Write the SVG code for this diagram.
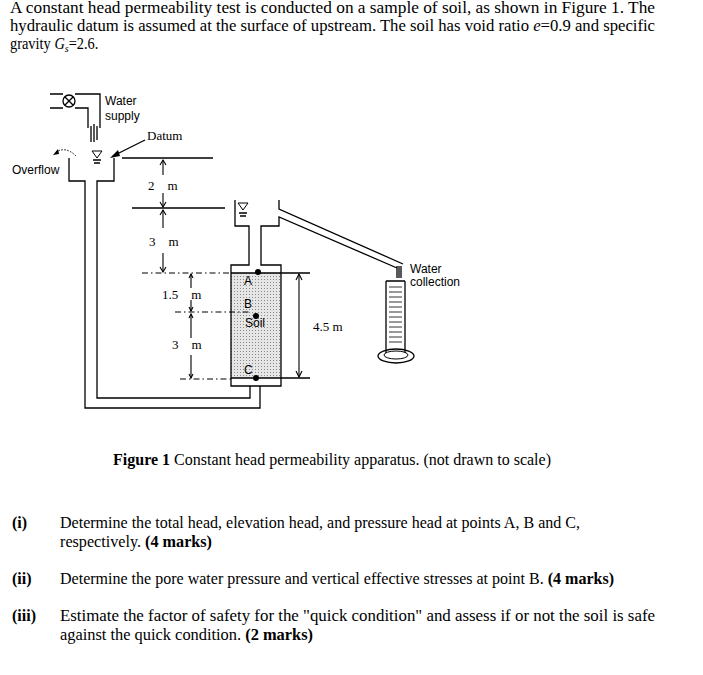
<svg xmlns="http://www.w3.org/2000/svg" width="703" height="675" viewBox="0 0 703 675">
<style>
.t{font-family:"Liberation Serif",serif;font-size:16px;fill:#000}
.s{font-family:"Liberation Sans",sans-serif;font-size:12px;fill:#000}
.d{font-family:"Liberation Serif",serif;font-size:13px;fill:#000;white-space:pre}
.l{fill:none;stroke:#000;stroke-width:1.3}
.h{fill:none;stroke:#000;stroke-width:1.1}
.dd{fill:none;stroke:#000;stroke-width:1.2;stroke-dasharray:6 3 1.5 3}
</style>
<defs>
<pattern id="p" width="3" height="3" patternUnits="userSpaceOnUse"><rect width="3" height="3" fill="#e6e6e6"/><rect width="1" height="1" fill="#888"/></pattern>
</defs>
<rect width="703" height="675" fill="#fff"/>
<text class="t" x="10" y="13" textLength="645" lengthAdjust="spacingAndGlyphs">A constant head permeability test is conducted on a sample of soil, as shown in Figure 1. The</text>
<text class="t" x="10" y="31" textLength="645" lengthAdjust="spacingAndGlyphs">hydraulic datum is assumed at the surface of upstream.  The soil has void ratio <tspan font-style="italic">e</tspan>=0.9 and specific</text>
<text class="t" x="10" y="49" transform="translate(10,0) scale(0.9,1) translate(-10,0)">gravity <tspan font-style="italic">G</tspan><tspan font-style="italic" font-size="11" dy="3">s</tspan><tspan dy="-3">=2.6.</tspan></text>

<g id="supply">
<path class="l" d="M50,94 H63 M75,94 H100 V128 M50,108 H63 M75,108 H88 V128"/>
<circle cx="69" cy="101" r="6" fill="#fff" stroke="#000" stroke-width="1.3"/>
<path class="l" d="M65,97 L73,105 M73,97 L65,105"/>
<path class="l" d="M91,126 V142 M94,124 V142 M97,126 V140" stroke-width="0.8"/>
<text class="s" x="105" y="105">Water</text><text class="s" x="105" y="120">supply</text>
</g>
<g id="upstream">
<path class="l" d="M69,158 V181 H85 V408 H260 V386 M114,158 V181 H97 V398 H250 V386"/>
<path d="M92,151 L102,151 L97,158 Z" fill="#fff" stroke="#000"/>
<path class="l" d="M93,160 H101 M94,163 H100"/>
<path d="M76,156 Q66,146 56,152" fill="none" stroke="#000" stroke-dasharray="1.5 1.5"/>
<path d="M53,155 L58,149 L59,154 Z" fill="#000"/>
<text class="s" x="12" y="174">Overflow</text>
<path class="l" d="M145,140 L113,156"/>
<path d="M110,158 L118,150 L120,156 Z" fill="#000"/>
<text class="d" x="147" y="140">Datum</text>
</g>
<g id="soil-column">
<rect x="231" y="273" width="50" height="105" fill="url(#p)"/>
<path class="l" d="M235,200 V226 H249 V265 H231 V386 H281 V265 H261 V226 H279 V217 L397,268 M279,200 V209 L403,264"/>
<path class="l" d="M231,273 H281 M231,378 H281"/>
<path d="M238,203 L248,203 L243,210 Z" fill="#fff" stroke="#000"/>
<path class="l" d="M239,213 H247 M240,216 H246"/>
<circle cx="258" cy="272" r="3"/><circle cx="256" cy="316" r="3"/><circle cx="256" cy="378" r="3"/>
<text class="s" x="244" y="285">A</text><text class="s" x="244" y="308">B</text>
<text class="s" x="245" y="327">Soil</text><text class="s" x="244" y="374">C</text>
</g>
<g id="collector">
<path class="l" d="M397,266 V278 M399,266 V278 M401,266 V278" stroke-width="0.8"/>
<ellipse cx="396" cy="356" rx="18" ry="7" fill="#fff" stroke="#000" stroke-width="1.3"/>
<ellipse cx="396" cy="355" rx="12" ry="4" fill="none" stroke="#000"/>
<path class="l" d="M386,281 V353 M405,281 V353 M386,281 H405"/>
<path d="M389,287 H402 M389,292 H402 M389,297 H402 M389,302 H402 M389,307 H402 M389,312 H402 M389,317 H402 M389,322 H402 M389,327 H402 M389,332 H402 M389,337 H402 M389,342 H402" stroke="#000" stroke-width="0.8"/>
<text class="s" x="410" y="273" font-size="11">Water</text><text class="s" x="410" y="286" font-size="11">collection</text>
</g>
<g id="connectors">
<path class="l" d="M122,158 H213 M132,208 H225 M281,273 H310 M281,378 H310" stroke-width="1"/>
<path class="dd" d="M142,273 H231 M175,312 H250 M180,379 H231"/>
<path class="h" d="M163,175 V160 M163,193 V207 M163,228 V210 M163,253 V272 M191,288 V274 M191,300 V311 M191,338 V314 M191,355 V378 M299,274 V377"/>
<path class="h" d="M160,165 L163,160 L166,165 M160,202 L163,207 L166,202 M160,215 L163,210 L166,215 M160,267 L163,272 L166,267 M189,278 L191,274 L193,278 M189,307 L191,311 L193,307 M189,318 L191,314 L193,318 M189,374 L191,378 L193,374 M296,280 L299,274 L302,280 M296,371 L299,377 L302,371"/>
<text class="d" x="148" y="190">2    m</text>
<text class="d" x="149" y="246">3    m</text>
<text class="d" x="162" y="299">1.5    m</text>
<text class="d" x="172" y="349">3    m</text>
<text class="d" x="313" y="331">4.5 m</text>
</g>
<text class="t" x="113" y="465" textLength="438" lengthAdjust="spacingAndGlyphs"><tspan font-weight="bold">Figure 1</tspan>  Constant head permeability apparatus. (not drawn to scale)</text>
<text class="t" x="12" y="528" font-weight="bold">(i)</text>
<text class="t" x="60" y="528" textLength="520" lengthAdjust="spacingAndGlyphs">Determine the total head, elevation head, and pressure head at points A, B and C,</text>
<text class="t" x="60" y="547" textLength="152" lengthAdjust="spacingAndGlyphs">respectively. <tspan font-weight="bold">(4 marks)</tspan></text>
<text class="t" x="12" y="584" font-weight="bold">(ii)</text>
<text class="t" x="60" y="584" textLength="554" lengthAdjust="spacingAndGlyphs">Determine the pore water pressure and vertical effective stresses at point B. <tspan font-weight="bold">(4 marks)</tspan></text>
<text class="t" x="12" y="621" font-weight="bold">(iii)</text>
<text class="t" x="60" y="621" textLength="595" lengthAdjust="spacingAndGlyphs">Estimate the factor of safety for the "quick condition" and assess if or not the soil is safe</text>
<text class="t" x="60" y="640" textLength="253" lengthAdjust="spacingAndGlyphs">against the quick condition.  <tspan font-weight="bold">(2 marks)</tspan></text>
</svg>
